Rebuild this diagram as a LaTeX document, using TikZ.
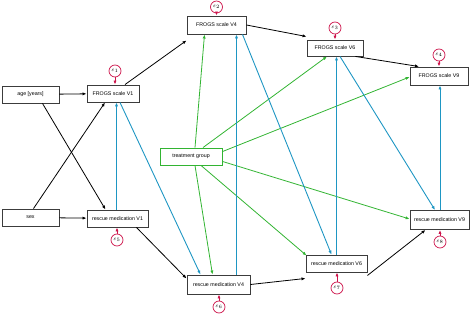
\documentclass[tikz,border=0pt]{standalone}
\usepackage{fontspec}
\setmainfont{Liberation Sans}
\usetikzlibrary{arrows.meta,calc}
\definecolor{boxline}{RGB}{60,60,60}
\definecolor{grn}{RGB}{50,180,50}
\definecolor{cyn}{RGB}{30,150,195}
\definecolor{crim}{RGB}{205,20,75}
\tikzset{
  box/.style={draw=boxline, line width=0.9pt, fill=white, inner sep=0pt, minimum height=17pt, font=\fontsize{5.3}{6}\selectfont},
  gbox/.style={box, draw=grn},
  err/.style={draw=crim, line width=0.7pt, circle, minimum size=12pt, inner sep=0pt, font=\fontsize{4.5}{5}\selectfont},
  tip/.style={-{Latex[length=4pt,width=3.2pt]}},
  blk/.style={tip, draw=black, line width=0.8pt},
  gr/.style={tip, draw=grn, line width=0.8pt},
  cy/.style={tip, draw=cyn, line width=0.9pt},
  er/.style={tip, draw=crim, line width=0.8pt}
}
\begin{document}
\begin{tikzpicture}[x=1pt,y=-1pt]
\useasboundingbox (0,0) rectangle (474,315);
% nodes
\node[box, minimum width=57pt] (age) at (30.5,94.5) {age [years]};
\node[box, minimum width=57pt] (sex) at (30.5,217.5) {sex};
\node[box, minimum width=52pt] (f1) at (113,93.5) {FROGS scale V1};
\node[box, minimum width=59pt, minimum height=18pt] (f4) at (216.5,25) {FROGS scale V4};
\node[box, minimum width=56pt, minimum height=16pt] (f6) at (335,48) {FROGS scale V6};
\node[box, minimum width=58pt, minimum height=18pt] (f9) at (439,76) {FROGS scale V9};
\node[gbox, minimum width=62pt] (tg) at (191,156.5) {treatment group};
\node[box, minimum width=61pt] (r1) at (117.5,218.5) {rescue medication V1};
\node[box, minimum width=63pt, minimum height=19pt] (r4) at (218.5,284.5) {rescue medication V4};
\node[box, minimum width=61pt] (r6) at (336.5,263.5) {rescue medication V6};
\node[box, minimum width=59pt, minimum height=19pt] (r9) at (439.5,220) {rescue medication V9};
% error terms
\node[err] (e1) at (115,71) {$\varepsilon_1$};
\node[err] (e2) at (216.5,7) {$\varepsilon_2$};
\node[err] (e3) at (335,28) {$\varepsilon_3$};
\node[err] (e4) at (439,55) {$\varepsilon_4$};
\node[err] (e5) at (117,240) {$\varepsilon_5$};
\node[err] (e6) at (219,307) {$\varepsilon_6$};
\node[err] (e7) at (337,288) {$\varepsilon_7$};
\node[err] (e8) at (440,242) {$\varepsilon_8$};
\draw[er] (e1) -- (e1 |- f1.north);
\draw[er] (e2) -- (e2 |- f4.north);
\draw[er] (e3) -- (e3 |- f6.north);
\draw[er] (e4) -- (e4 |- f9.north);
\draw[er] (e5) -- (e5 |- r1.south);
\draw[er] (e6) -- (e6 |- r4.south);
\draw[er] (e7) -- (e7 |- r6.south);
\draw[er] (e8) -- (e8 |- r9.south);
% black paths
\draw[blk] (age) -- (f1);
\draw[blk] ([xshift=12pt]age.south) -- ([xshift=-12pt]r1.north);
\draw[blk] ([xshift=3pt]sex.north) -- ([xshift=-8pt]f1.south);
\draw[blk] (sex) -- (r1);
\draw[blk] ([xshift=12pt]f1.north) -- ([yshift=-6pt]f4.south west);
\draw[blk] (f4.east) -- ([yshift=3pt]f6.north west);
\draw[blk] ([xshift=-8pt]f6.south east) -- ([xshift=-20pt]f9.north);
\draw[blk] ([xshift=-12pt]r1.south east) -- ([yshift=-4pt]r4.north west);
\draw[blk] (r4.east) -- ([yshift=-6pt]r6.south west);
\draw[blk] ([yshift=-3pt]r6.south east) -- ([xshift=-14pt]r9.south);
% green paths
\draw[gr] ([xshift=4pt]tg.north) -- ([xshift=-12pt]f4.south);
\draw[gr] ([xshift=12pt]tg.north) -- ([xshift=-8pt]f6.south);
\draw[gr] ([yshift=-4pt]tg.north east) -- ([yshift=-1pt]f9.west);
\draw[gr] ([xshift=4pt]tg.south) -- ([xshift=-6pt]r4.north);
\draw[gr] ([xshift=10pt]tg.south) -- ([xshift=1pt,yshift=-1pt]r6.north west);
\draw[gr] ([yshift=4pt]tg.south east) -- ([yshift=1pt]r9.west);
% cyan paths
\draw[cy] ([xshift=-1pt]r1.north) -- ([xshift=-1pt]r1.north |- f1.south);
\draw[cy] ([xshift=7pt]f1.south) -- ([xshift=-18pt]r4.north);
\draw[cy] ([xshift=18pt]r4.north) -- ([xshift=18pt]r4.north |- f4.south);
\draw[cy] ([xshift=26pt]f4.south) -- ([xshift=-5pt]r6.north);
\draw[cy] (r6.north) -- (r6.north |- f6.south);
\draw[cy] ([xshift=5pt]f6.south) -- ([xshift=-4.5pt]r9.north);
\draw[cy] ([xshift=0.5pt]r9.north) -- ([xshift=0.5pt]r9.north |- f9.south);
\end{tikzpicture}
\end{document}
